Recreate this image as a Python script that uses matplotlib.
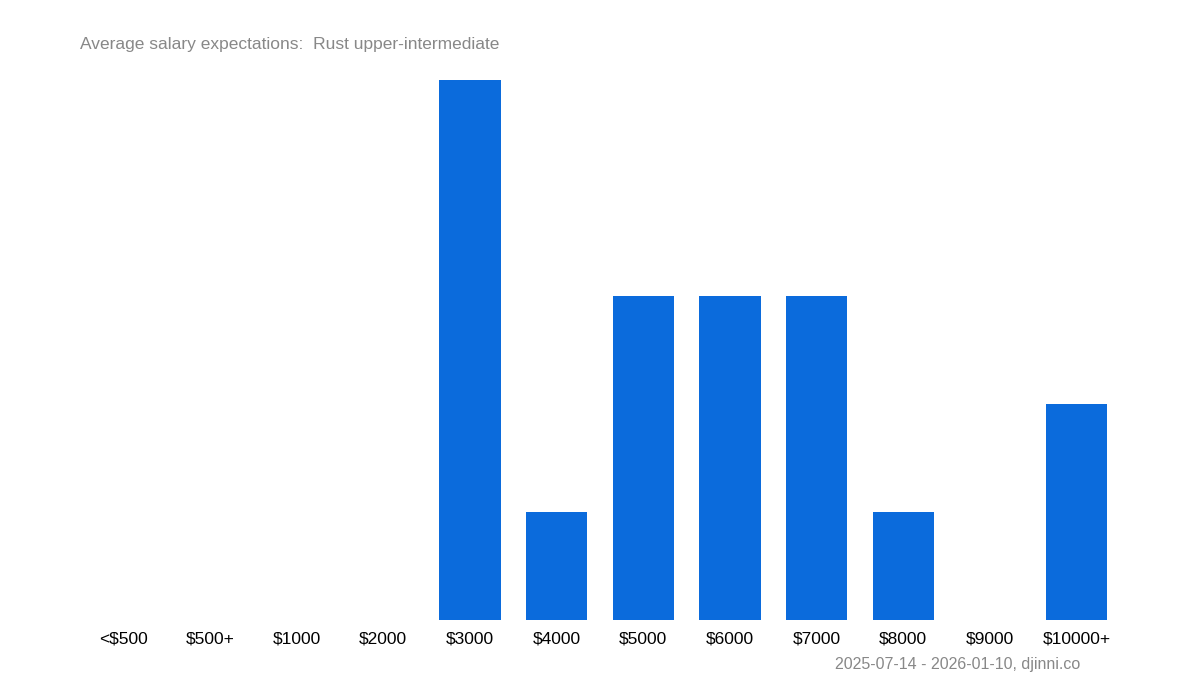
import matplotlib.pyplot as plt

plt.rcParams['font.family'] = ['Liberation Sans', 'DejaVu Sans']

labels = ['<$500', '$500+', '$1000', '$2000', '$3000', '$4000',
          '$5000', '$6000', '$7000', '$8000', '$9000', '$10000+']
counts = [0, 0, 0, 0, 5, 1, 3, 3, 3, 1, 0, 2]

fig = plt.figure(figsize=(12, 7), dpi=100)
ax = fig.add_axes((80 / 1200, 80 / 700, 1040 / 1200, 540 / 700))

ax.bar(range(len(labels)), counts, width=0.71, color='#0b6bdc')
ax.set_xlim(-0.5, len(labels) - 0.5)
ax.set_ylim(0, max(counts))
ax.set_xticks(range(len(labels)))
ax.set_xticklabels(labels, fontsize=12.5)
ax.tick_params(axis='x', length=0, pad=8)
ax.set_yticks([])
for s in ax.spines.values():
    s.set_visible(False)

fig.text(80 / 1200, 1 - 44 / 700, 'Average salary expectations:  Rust upper-intermediate',
         fontsize=12.5, color='#888888', va='center', ha='left')
fig.text(1080 / 1200, 1 - 664 / 700, '2025-07-14 - 2026-01-10, djinni.co',
         fontsize=11.5, color='#888888', va='center', ha='right')

fig.savefig('out.png', dpi=100)
